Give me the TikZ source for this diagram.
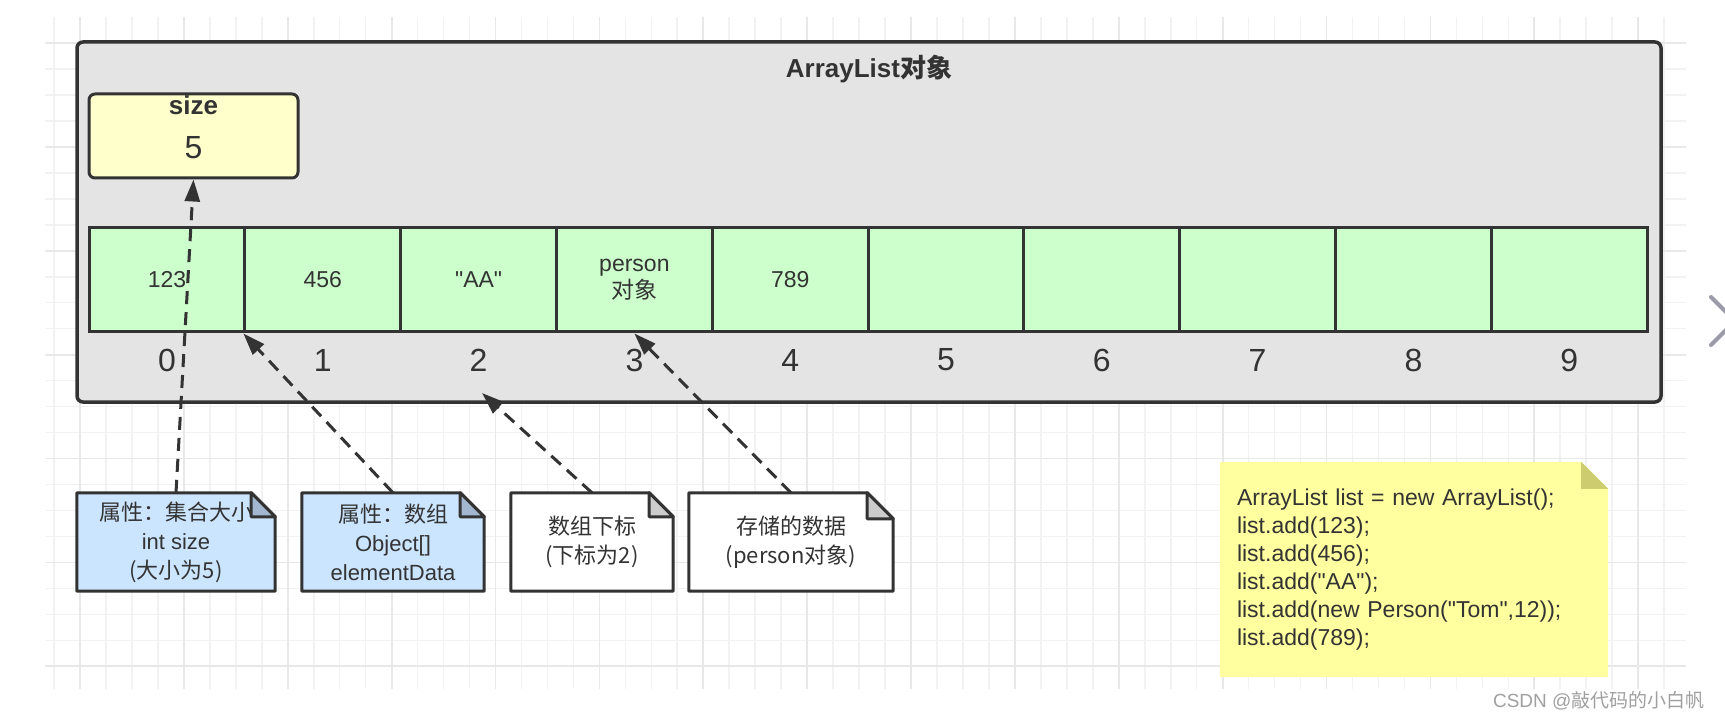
\documentclass[tikz,border=0pt]{standalone}
\usepackage{fontspec}
\setmainfont{Liberation Sans}[Ligatures=TeXOff]
\newfontfamily\cjk{Noto Sans CJK SC}
\usetikzlibrary{arrows.meta,backgrounds}
\definecolor{ink}{HTML}{333333}
\definecolor{boxgray}{HTML}{E4E4E4}
\definecolor{cellgreen}{HTML}{CCFFCC}
\definecolor{sizeyellow}{HTML}{FFFFCC}
\definecolor{noteblue}{HTML}{CCE5FF}
\definecolor{foldblue}{HTML}{A3B8D0}
\definecolor{foldgray}{HTML}{CCCCCC}
\definecolor{codeyellow}{HTML}{FFFFA0}
\definecolor{foldolive}{HTML}{CDCD70}
\definecolor{gridminor}{HTML}{F2F2F2}
\definecolor{gridmajor}{HTML}{E8E8E8}
\definecolor{markgray}{HTML}{A0A0A0}
\definecolor{chevgray}{HTML}{9A9AA8}
\tikzset{
    object box/.style = {
        draw = ink,
        fill = boxgray,
        line width = 3.5pt,
        rounded corners = 6pt,
        minimum width = 1584pt,
        minimum height = 360pt,
        },
    title/.style = {
        text = ink,
        font = \fontsize{26}{30}\selectfont\bfseries,
        },
    size box/.style = {
        draw = ink,
        fill = sizeyellow,
        line width = 3pt,
        rounded corners = 6pt,
        minimum width = 209pt,
        minimum height = 84pt,
        },
    size label/.style = {
        text = ink,
        inner sep = 0pt,
        font = \fontsize{26}{30}\selectfont\bfseries,
        },
    size value/.style = {
        text = ink,
        inner sep = 0pt,
        font = \fontsize{32}{36}\selectfont,
        },
    array cell/.style = {
        draw = ink,
        fill = cellgreen,
        line width = 3pt,
        minimum width = 155.8pt,
        minimum height = 104pt,
        inner sep = 0pt,
        align = center,
        text = ink,
        font = \fontsize{23}{27}\selectfont,
        },
    slot index/.style = {
        text = ink,
        inner sep = 0pt,
        font = \fontsize{32}{36}\selectfont,
        },
    note/.style = {
        minimum height = 98pt,
        inner sep = 0pt,
        align = center,
        text = ink,
        font = \fontsize{22}{29}\selectfont,
        },
    code note/.style = {
        minimum width = 388pt,
        minimum height = 215pt,
        text width = 354pt,
        inner xsep = 17pt,
        inner ysep = 0pt,
        align = left,
        text = ink,
        font = \fontsize{23}{28}\selectfont,
        },
    link/.style = {
        draw = ink,
        line width = 3pt,
        dash pattern = on 13pt off 8pt,
        -{Triangle[length=22pt, width=15pt]},
        },
    grid minor/.style = {
        draw = gridminor,
        line width = 1.6pt,
        },
    grid major/.style = {
        draw = gridmajor,
        line width = 1.8pt,
        },
}
% note with folded corner: node, fill, fold fill, stroke, fold size
\newcommand{\foldnote}[5]{%
    \path[fill=#2, draw=#4, line width=3pt, line join=round]
        (#1.north west) -- ([xshift=-#5]#1.north east) -- ([yshift=-#5]#1.north east)
        -- (#1.south east) -- (#1.south west) -- cycle;
    \path[fill=#3, draw=#4, line width=3pt, line join=round]
        ([xshift=-#5]#1.north east) -- ([xshift=-#5, yshift=-#5]#1.north east)
        -- ([yshift=-#5]#1.north east) -- cycle;
}

\begin{document}
\begin{tikzpicture}[x=1pt, y=-1pt]
            \useasboundingbox (0,0) rectangle (1725,719);
            \begin{scope}[on background layer]
                \fill[white] (0,0) rectangle (1725,719);
                % canvas grid
                \foreach \k in {0,...,62}
                    \draw[grid minor] ({54+25.97*\k},17) -- ({54+25.97*\k},689);
                \foreach \k in {0,...,24}
                    \draw[grid minor] (45,{43+25.97*\k}) -- (1686,{43+25.97*\k});
                \foreach \k in {0,...,15}
                    \draw[grid major] ({80+103.88*\k},17) -- ({80+103.88*\k},689);
                \foreach \k in {0,...,6}
                    \draw[grid major] (45,{43+103.88*\k}) -- (1686,{43+103.88*\k});
            \end{scope}

            \node[object box] (obj) at (869,222) {};
            \node[title] (ttl) at (869,69) {ArrayList{\cjk\bfseries 对象}};

            \node[size box] (sz) at (193.5,136) {};
            \node[size label] (szname) at (193.5,105) {size};
            \node[size value] (szval) at (193.5,148) {5};

            \foreach \i/\val in {0/123, 1/456, 2/"AA", 3/{person\\{\cjk 对象}}, 4/789, 5/{}, 6/{}, 7/{}, 8/{}, 9/{}} {
                \node[array cell] (c\i) at ({167+155.8*\i},280) {\val};
                \node[slot index] (i\i) at ({167+155.8*\i},360) {\i};
            }
            \coordinate (t2) at (482,393);

            \node[note, minimum width=198pt] (n1) at (176,542) {{\cjk 属性：集合大小}\\int size\\{\cjk (大小为5)}};
            \node[note, minimum width=182pt] (n2) at (393,542) {{\cjk 属性：数组}\\Object[]\\elementData};
            \node[note, minimum width=162pt] (n3) at (592,542) {{\cjk 数组下标}\\{\cjk (下标为2)}};
            \node[note, minimum width=204pt] (n4) at (791,542) {{\cjk 存储的数据}\\{\cjk (person对象)}};
            \node[code note] (code) at (1414,569.5) {ArrayList list = new ArrayList();\\list.add(123);\\list.add(456);\\list.add("AA");\\list.add(new Person("Tom",12));\\list.add(789);};

            \begin{scope}[on background layer]
                \foldnote{n1}{noteblue}{foldblue}{ink}{24pt}
                \foldnote{n2}{noteblue}{foldblue}{ink}{24pt}
                \foldnote{n3}{white}{foldgray}{ink}{24pt}
                \foldnote{n4}{white}{foldgray}{ink}{26pt}
                \foldnote{code}{codeyellow}{foldolive}{none}{27pt}
            \end{scope}

            \path (n1.north) edge[link] (sz.south);
            \path (n2.north) edge[link] (c1.south west);
            \path (n3.north) edge[link] (t2);
            \path (n4.north) edge[link] (c3.south);

            \node[anchor=east, text=markgray, font=\fontsize{19}{22}\selectfont] (mark) at (1708,701) {CSDN @{\cjk 敲代码的小白帆}};
            \begin{scope}
                \clip (0,0) rectangle (1725,719);
                \draw[chevgray, line width=4pt, line cap=round] (1711,297) -- (1735,321) -- (1711,345);
            \end{scope}
\end{tikzpicture}
\end{document}
